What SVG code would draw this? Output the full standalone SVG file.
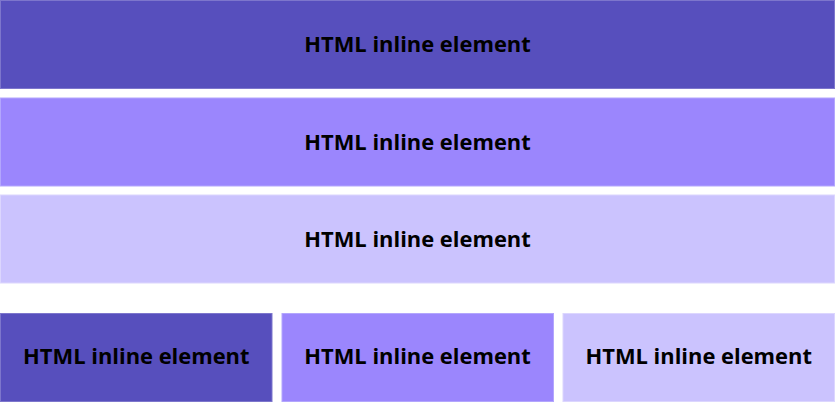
<svg xmlns="http://www.w3.org/2000/svg" width="835" height="403" viewBox="0 0 835 403">
<style>
.b{stroke-width:1}
.d{fill:#574fbd;stroke:#7d76cc}
.m{fill:#9b86fd;stroke:#b3a6fd}
.l{fill:#cbc3fe;stroke:#dcd6fe}
text{font-family:"Open Sans","Noto Sans","DejaVu Sans",sans-serif;font-weight:700;font-size:21.9px;fill:#000;text-anchor:middle}
</style>
<rect width="835" height="403" fill="#fff"/>
<g id="row1"><rect class="b d" x="0.5" y="0.5" width="834" height="88"/><text x="417.5" y="52.3">HTML inline element</text></g>
<g id="row2"><rect class="b m" x="0.5" y="98" width="834" height="88"/><text x="417.5" y="150">HTML inline element</text></g>
<g id="row3"><rect class="b l" x="0.5" y="195" width="834" height="88"/><text x="417.5" y="247">HTML inline element</text></g>
<g id="col1"><rect class="b d" x="0.5" y="313.5" width="271.5" height="88"/><text x="136.3" y="364">HTML inline element</text></g>
<g id="col2"><rect class="b m" x="282" y="313.5" width="271.5" height="88"/><text x="417.5" y="364">HTML inline element</text></g>
<g id="col3"><rect class="b l" x="563" y="313.5" width="271.5" height="88"/><text x="698.7" y="364">HTML inline element</text></g>
<g id="connectors"></g>
</svg>
